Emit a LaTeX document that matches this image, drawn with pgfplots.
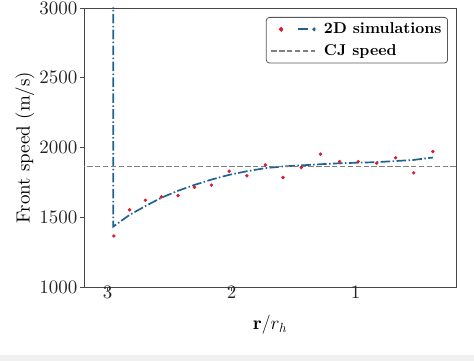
\RequirePackage{fix-cm}
\documentclass[border=0pt]{standalone}
\usepackage{fontspec}
\setmainfont{lmroman10-regular}[Extension=.otf, BoldFont=lmroman10-bold, ItalicFont=lmroman10-italic, BoldItalicFont=lmroman10-bolditalic]
\usepackage{pgfplots}
\pgfplotsset{compat=1.18}
\definecolor{fitblue}{RGB}{31,98,145}
\definecolor{dotred}{RGB}{220,25,45}
\definecolor{framegray}{RGB}{70,70,70}
\begin{document}
\fontsize{19}{23}\selectfont
\begin{tikzpicture}
\useasboundingbox (-84pt,-74pt) rectangle (390pt,287pt);
\fill[black!6] (-84pt,-74pt) rectangle (390pt,-68pt);
\begin{axis}[
  at={(0,0)}, anchor=south west,
  scale only axis, width=372pt, height=279pt,
  x dir=reverse, xmin=0.19, xmax=3.19, ymin=1000, ymax=3000,
  xtick={1,2,3}, ytick={1000,1500,2000,2500,3000},
  /pgf/number format/assume math mode=true,
  /pgf/number format/1000 sep={},
  tick align=outside, xtick pos=bottom, ytick pos=left,
  major tick length=3.5pt,
  axis line style={draw=framegray, line width=0.9pt},
  every tick/.style={framegray, line width=0.9pt},
  tick label style={font=\fontsize{19}{23}\selectfont, text=black!85},
  xticklabel style={anchor=center, inner sep=0pt, yshift=-2pt},
  yticklabel style={anchor=east, inner sep=0pt, xshift=-3pt},
  every axis x label/.style={at={([yshift=-38pt]rel axis cs:0.5,0)}, anchor=center, font=\fontsize{19}{23}\selectfont},
  every axis y label/.style={at={([xshift=-59pt]rel axis cs:0,0.5)}, anchor=center, rotate=90, font=\fontsize{19}{23}\selectfont},
  xlabel={$\mathbf{r}/r_h$},
  ylabel={Front speed (m/s)},
  legend style={at={(rel axis cs:1,1)}, anchor=north east, xshift=-8pt, yshift=-9pt,
    draw=black!65, line width=0.8pt, rounded corners=3pt, fill=white,
    font=\bfseries\fontsize{15.7}{19}\selectfont, inner xsep=4pt, inner ysep=3pt,
    row sep=4pt},
  legend cell align=left,
]
\addplot[fitblue, line width=1.7pt, dash pattern=on 9.6pt off 2.4pt on 1.5pt off 2.4pt,
  legend image code/.code={
    \path (0pt,0pt) (50pt,0pt);
    \fill[dotred] (10pt,0pt) circle (1.4pt);
    \draw[fitblue, line width=1.7pt, solid] (27pt,0pt) -- (37pt,0pt);
    \fill[fitblue] (43pt,0pt) circle (0.9pt);
  }] coordinates {
  (2.954,3300) (2.954,1433)
  (2.822,1517) (2.695,1580) (2.566,1640) (2.431,1690) (2.299,1732)
  (2.162,1770) (2.019,1804) (1.876,1830) (1.728,1852) (1.585,1864)
  (1.437,1872) (1.283,1880) (1.129,1887) (0.978,1891) (0.830,1895)
  (0.677,1903) (0.531,1911) (0.377,1928)
};
\addlegendentry{2D simulations}
\addplot[gray, line width=1.3pt, dash pattern=on 5.5pt off 2.4pt,
  legend image code/.code={
    \path (0pt,0pt) (50pt,0pt);
    \draw[gray, line width=1.3pt, dash pattern=on 5.5pt off 2.4pt] (0pt,0pt) -- (44pt,0pt);
  }] coordinates {(0.19,1865) (3.19,1865)};
\addlegendentry{CJ speed}
\addplot[only marks, mark=*, mark size=1.5pt, dotred, forget plot] table {
x y
2.949 1366
2.822 1553
2.695 1622
2.566 1646
2.431 1655
2.299 1715
2.162 1730
2.019 1830
1.876 1797
1.728 1875
1.585 1785
1.437 1856
1.283 1952
1.129 1899
0.978 1899
0.830 1887
0.677 1926
0.531 1818
0.377 1971
};
\end{axis}
\end{tikzpicture}
\end{document}
